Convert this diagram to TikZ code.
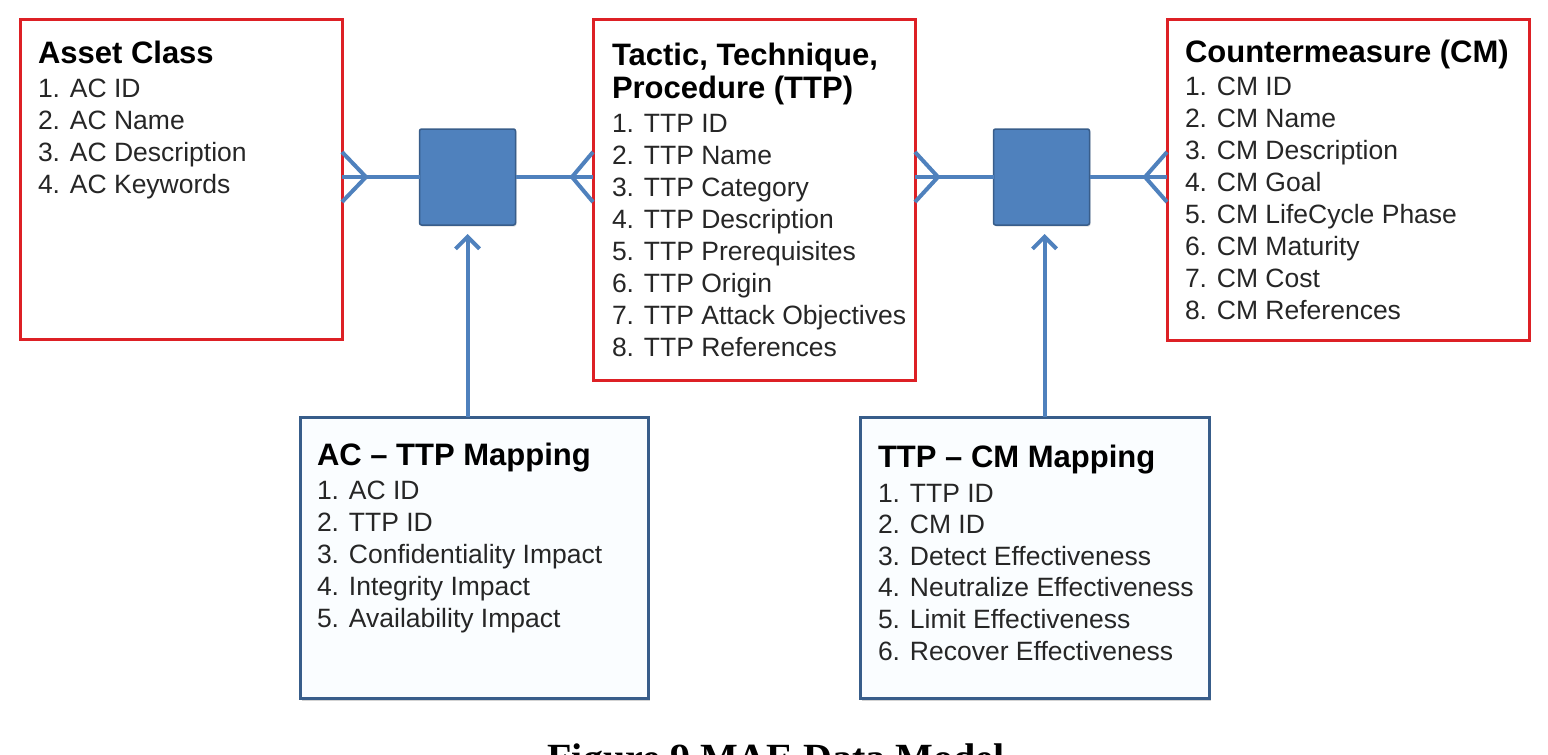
\documentclass[tikz,border=0pt]{standalone}
\usepackage{fontspec}
\setmainfont{Liberation Sans}
\newfontfamily\capfont{Liberation Serif}
\usetikzlibrary{arrows.meta,calc,shadows}
\definecolor{boxred}{RGB}{221,32,37}
\definecolor{sqblue}{RGB}{79,129,189}
\definecolor{dkblue}{RGB}{56,93,138}
\definecolor{itemgray}{RGB}{38,38,38}
\definecolor{mapfill}{RGB}{250,253,255}
\newcommand{\rw}[1]{\hbox{#1}}
\begin{document}
\begin{tikzpicture}[x=1pt,y=-1pt,
  entity/.style={draw=boxred,line width=3pt,fill=white,outer sep=0pt,inner sep=0pt,
    drop shadow={shadow xshift=1.5pt,shadow yshift=-1.5pt,opacity=0.2}},
  mapbox/.style={draw=dkblue,line width=3pt,fill=mapfill,outer sep=0pt,inner sep=0pt,
    drop shadow={shadow xshift=1.5pt,shadow yshift=-2.5pt,opacity=0.35}},
  junction/.style={draw=dkblue,line width=1.5pt,fill=sqblue,rounded corners=2pt,
    minimum width=96pt,minimum height=96pt,inner sep=0pt,outer sep=0pt,
    drop shadow={shadow xshift=1pt,shadow yshift=-1.5pt,opacity=0.25}},
  conn/.style={draw=sqblue,line width=4pt},
  ttl/.style={anchor=base west,inner sep=0pt,outer sep=0pt,text=black,
    font=\fontsize{31}{33}\selectfont\bfseries},
  itm/.style={anchor=base west,inner sep=0pt,outer sep=0pt,text=itemgray,
    font=\fontsize{26.5}{32}\selectfont},
]
\useasboundingbox (0,0) rectangle (1548,755);
\clip (0,0) rectangle (1548,755);

% entity boxes
\node[entity,minimum width=322pt,minimum height=320pt] (ac) at (181,179) {};
\node[entity,minimum width=322pt,minimum height=361pt] (ttp) at (754,199.5) {};
\node[entity,minimum width=362pt,minimum height=321pt] (cm) at (1348,179.5) {};

% mapping boxes
\node[mapbox,minimum width=348pt,minimum height=281pt] (map1) at (474,557.5) {};
\node[mapbox,minimum width=349pt,minimum height=281pt] (map2) at (1034.5,557.5) {};

% junction squares
\node[junction] (sq1) at (467.5,177) {};
\node[junction] (sq2) at (1041.5,177) {};

% connectors
\coordinate (pa) at (ac.east |- sq1.west);
\coordinate (pb) at (ttp.west |- sq1.east);
\coordinate (pc) at (ttp.east |- sq2.west);
\coordinate (pd) at (cm.west |- sq2.east);
\draw[conn] (pa) -- (sq1.west);
\draw[conn] (sq1.east) -- (pb);
\draw[conn] (pc) -- (sq2.west);
\draw[conn] (sq2.east) -- (pd);
\draw[conn,line join=miter] ($(pa)+(0,-25)$) -- ($(pa)+(24,0)$) -- ($(pa)+(0,25)$);
\draw[conn,line join=miter] ($(pb)+(0,-25)$) -- ($(pb)+(-21,0)$) -- ($(pb)+(0,25)$);
\draw[conn,line join=miter] ($(pc)+(0,-25)$) -- ($(pc)+(23,0)$) -- ($(pc)+(0,25)$);
\draw[conn,line join=miter] ($(pd)+(0,-25)$) -- ($(pd)+(-22,0)$) -- ($(pd)+(0,25)$);
\draw[conn,-{Straight Barb[length=12pt,width=24pt]},shorten >=9pt]
  (sq1.south |- map1.north) -- (sq1.south);
\draw[conn,-{Straight Barb[length=12pt,width=24pt]},shorten >=9pt]
  ([xshift=3pt]sq2.south |- map2.north) -- ([xshift=3pt]sq2.south);

% texts: Asset Class
\node[ttl] (act) at (38,63) {Asset Class};
\node[itm] (aci) at (38,97) {\vtop{\rw{1. AC ID}\rw{2. AC Name}\rw{3. AC Description}\rw{4. AC Keywords}}};

% TTP
\node[ttl] (ttpt) at (612,65) {\vtop{\rw{Tactic, Technique,}\rw{Procedure (TTP)}}};
\node[itm] (ttpi) at (612,132) {\vtop{\rw{1. TTP ID}\rw{2. TTP Name}\rw{3. TTP Category}\rw{4. TTP Description}\rw{5. TTP Prerequisites}\rw{6. TTP Origin}\rw{7. TTP Attack Objectives}\rw{8. TTP References}}};

% CM
\node[ttl] (cmt) at (1185,62) {Countermeasure (CM)};
\node[itm] (cmi) at (1185,95) {\vtop{\rw{1. CM ID}\rw{2. CM Name}\rw{3. CM Description}\rw{4. CM Goal}\rw{5. CM LifeCycle Phase}\rw{6. CM Maturity}\rw{7. CM Cost}\rw{8. CM References}}};

% AC-TTP mapping
\node[ttl] (m1t) at (317,465) {AC -- TTP Mapping};
\node[itm] (m1i) at (317,499) {\vtop{\rw{1. AC ID}\rw{2. TTP ID}\rw{3. Confidentiality Impact}\rw{4. Integrity Impact}\rw{5. Availability Impact}}};

% TTP-CM mapping
\node[ttl] (m2t) at (878,467) {TTP -- CM Mapping};
\node[itm,font=\fontsize{26.5}{31.6}\selectfont] (m2i) at (878,502) {\vtop{\rw{1. TTP ID}\rw{2. CM ID}\rw{3. Detect Effectiveness}\rw{4. Neutralize Effectiveness}\rw{5. Limit Effectiveness}\rw{6. Recover Effectiveness}}};

% caption (cut by the page edge, as in the reference)
\node[anchor=base,inner sep=0pt,font=\capfont\bfseries\fontsize{40}{44}\selectfont] (cap) at (776,771) {Figure 9 MAE Data Model};
\end{tikzpicture}
\end{document}
